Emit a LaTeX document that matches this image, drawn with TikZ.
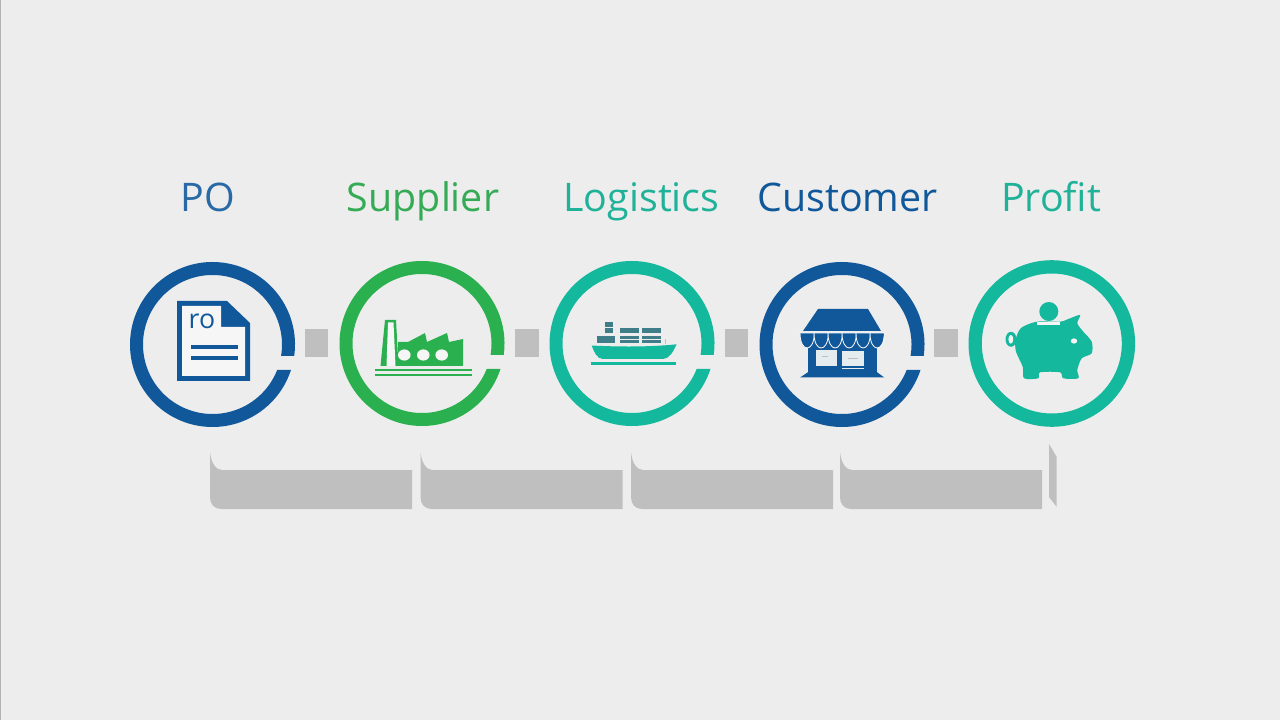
\documentclass[tikz,border=0pt]{standalone}
\usepackage{fontspec}
\setmainfont{Open Sans}
\definecolor{bgcol}{HTML}{EDEDED}
\definecolor{bluecol}{HTML}{11589B}
\definecolor{greencol}{HTML}{2BB04F}
\definecolor{tealcol}{HTML}{14B89C}
\definecolor{greycol}{HTML}{BFBFBF}
\definecolor{crate}{HTML}{3F7E88}
\definecolor{pane}{HTML}{E4ECEF}
\tikzset{
    lbl/.style={anchor=base, font=\fontsize{28}{34}\selectfont},
    sq/.style={fill=greycol, minimum width=0.58cm, minimum height=0.7cm, inner sep=0pt},
    panel/.style={fill=greycol}
}
\newcommand{\gapring}[2]{%
    \fill[#2] ([shift={(8:82.5)}]#1) arc[start angle=8, end angle=-342, radius=82.5]
        -- ([shift={(21.4:69.5)}]#1) arc[start angle=-338.6, end angle=9.5, radius=69.5] -- cycle;
}
\begin{document}
\begin{tikzpicture}[x=0.025cm, y=-0.025cm]
    % Background
    \fill[bgcol] (0,0) rectangle (1280,720);
    \fill[gray!60] (0,0) rectangle (1.5,720);
    \useasboundingbox (0,0) rectangle (1280,720);

    % Labels
    \node[lbl, text=bluecol!90!white] (polabel) at (207.5,212) {PO};
    \node[lbl, text=greencol!90!gray] (supplierlabel) at (423,212) {Supplier};
    \node[lbl, text=tealcol!90!gray] (logisticslabel) at (641.5,212) {Logistics};
    \node[lbl, text=bluecol] (customerlabel) at (847.5,212) {Customer};
    \node[lbl, text=tealcol!90!gray] (profitlabel) at (1051,212) {Profit};

    % Rings
    \coordinate (po) at (212.5,344.5);
    \coordinate (supplier) at (422,343.5);
    \coordinate (logistics) at (632,343.5);
    \coordinate (customer) at (842,344.5);
    \coordinate (profit) at (1051.8,343.5);
    \gapring{po}{bluecol}
    \gapring{supplier}{greencol}
    \gapring{logistics}{tealcol}
    \gapring{customer}{bluecol}
    \fill[tealcol, even odd rule] (profit) circle[radius=83.3] (profit) circle[radius=70];

    % Squares between the rings
    \node[sq] (sqa) at (316.8,343) {};
    \node[sq] (sqb) at (527,343) {};
    \node[sq] (sqc) at (736.5,343) {};
    \node[sq] (sqd) at (946,343) {};

    % Bottom panels
    \foreach \x in {210,420.5,631,840} {
        \fill[panel] (\x,452) .. controls (\x+1,463) and (\x+6,470) .. (\x+12,470)
            -- (\x+202,470) -- (\x+202,509) -- (\x+11,509)
            .. controls (\x+4,509) and (\x,504) .. (\x,497) -- cycle;
    }
    \fill[panel] (1049,444) -- (1056.7,457) -- (1056.7,507) -- (1049,497) -- cycle;

    % PO sheet
    \fill[bluecol] (177,301) -- (227,301) -- (250,323) -- (250,381) -- (177,381) -- cycle;
    \fill[bgcol!50!white] (182,306) -- (221,306) -- (221,327) -- (245,327) -- (245,376) -- (182,376) -- cycle;
    \node[text=bluecol, anchor=base, inner sep=0pt, font=\fontsize{19}{19}\selectfont] (ro) at (202,329) {ro};
    \fill[bluecol] (191,345) rectangle (238,349.5);
    \fill[bluecol] (191,356) rectangle (238,360.5);

    % Factory
    \fill[greencol] (385,320) -- (396,320) -- (398.5,366) -- (380.5,366) -- cycle;
    \fill[bgcol!50!white] (388,322.5) -- (393.5,322.5) -- (395.5,366) -- (386.5,366) -- cycle;
    \fill[greencol] (398,342) -- (408,342) -- (425,333) -- (427,342) -- (447,333) -- (449,342)
        -- (463,339) -- (463,366) -- (398,366) -- cycle;
    \foreach \x in {404.3,423.3,441.7} {
        \fill[bgcol!50!white] (\x,355) ellipse[x radius=6.3, y radius=5.6];
    }
    \fill[greencol] (375,368.6) rectangle (471.5,371);
    \fill[greencol] (375,374) rectangle (471.5,376.2);

    % Ship
    \fill[tealcol] (591.7,345.5) .. controls (620,347) and (650,347) .. (676.7,344.3)
        .. controls (673,352) and (669,359) .. (663,359) -- (603,359)
        .. controls (597,359) and (594,352) .. (591.7,345.5) -- cycle;
    \fill[tealcol] (590.7,362.5) rectangle (675.7,365.5);
    \fill[crate] (605,322.3) rectangle (613.3,327.3);
    \fill[crate] (605,328.3) rectangle (613.3,333.3);
    \fill[crate] (596.7,336) rectangle (615,343.3);
    \foreach \x in {620,642.3} {
        \fill[crate] (\x,327.7) rectangle (\x+19,333.3);
        \fill[crate] (\x,336) rectangle (\x+19,339.3);
        \fill[crate] (\x,340.3) rectangle (\x+19,343.3);
    }
    \fill[greycol] (664.8,339.5) rectangle (666,344.5);

    % Store
    \fill[bluecol] (818,309) -- (868,309) -- (881,331) -- (803,331) -- cycle;
    \fill[bluecol] (806,333) rectangle (878,345);
    \fill[bluecol] (808.3,345) rectangle (876.7,373);
    \fill[bluecol] (808.3,372) -- (800,377.5) -- (884.3,377.5) -- (876.7,372) -- cycle;
    \foreach \x in {800,814,828,842,856,870} {
        \fill[bluecol, draw=bgcol!50!white, line width=0.6pt] (\x,333) -- (\x+14.3,333)
            .. controls (\x+14.3,353) and (\x,353) .. (\x,333) -- cycle;
    }
    \fill[pane] (815.7,350) rectangle (836.7,365.7);
    \fill[pane] (841.7,350.7) rectangle (864.3,366.5);
    \fill[pane] (841.7,367.6) rectangle (864.3,368.6);
    \draw[greycol, thin] (822,356) -- (828,356);
    \draw[greycol, thin] (848,358) -- (858,358);

    % Piggy bank
    \fill[tealcol] (1048.8,311.5) circle[radius=9.5];
    \fill[tealcol] plot[smooth cycle, tension=0.45] coordinates {
        (1021,328)
        (1036.7,321.7)
        (1060,321.7)
        (1068.3,319)
        (1080,315)
        (1077.3,323.3)
        (1083.3,331.7)
        (1091.7,341.7)
        (1091.7,353.3)
        (1081.7,358.3)
        (1077.3,370)
        (1078.3,378.3)
        (1063.3,378.3)
        (1060,372.3)
        (1040,372.3)
        (1038.3,378.3)
        (1024,378.3)
        (1022.7,366.7)
        (1016,351.7)
        (1015.5,340)
    };
    \fill[bgcol!50!white] (1037,322) rectangle (1060,325.5);
    \fill[tealcol] (1011,339.3) ellipse[x radius=5.5, y radius=7.5];
    \fill[bgcol!50!white] (1010.8,339.3) ellipse[x radius=2.4, y radius=4.4];
    \fill[bgcol!50!white] (1074,341) ellipse[x radius=3.2, y radius=2.6];
\end{tikzpicture}
\end{document}
